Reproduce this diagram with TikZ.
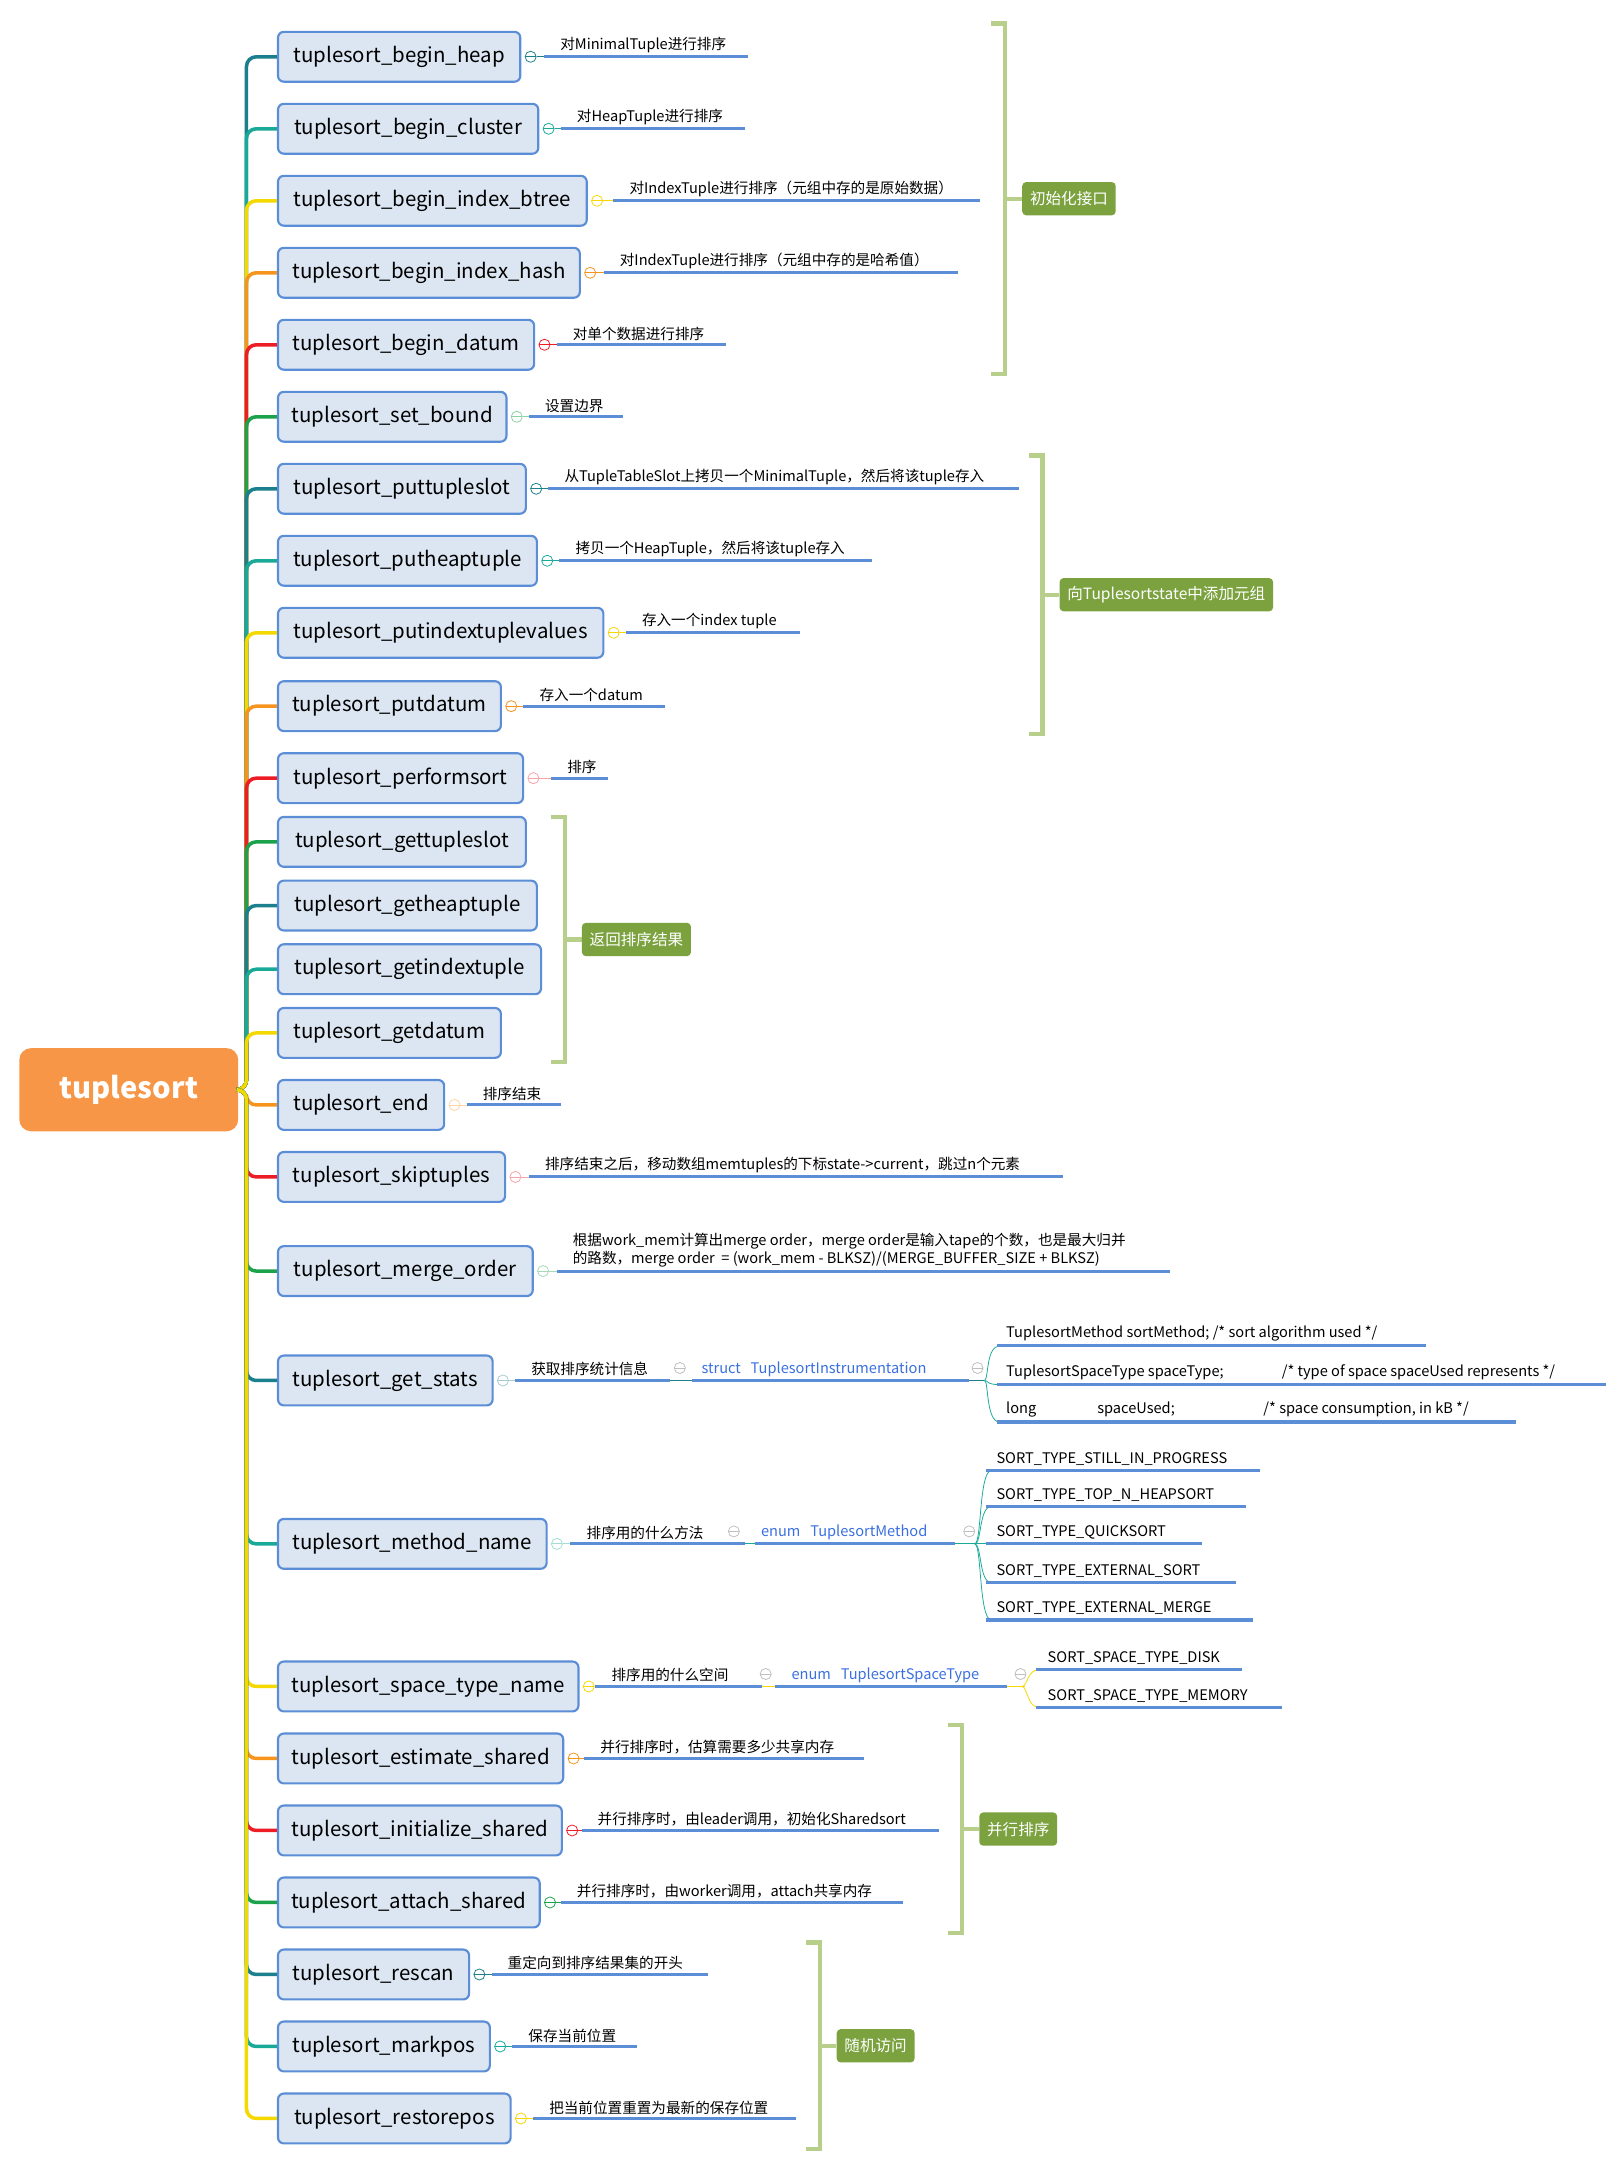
\documentclass[tikz,border=0pt]{standalone}
\usepackage{fontspec}
\setmainfont{Noto Sans CJK SC}
\usetikzlibrary{positioning}
\definecolor{dteal}{HTML}{1B7F8E}
\definecolor{teal2}{HTML}{19A999}
\definecolor{yel}{HTML}{F5D800}
\definecolor{org}{HTML}{F7941D}
\definecolor{rd}{HTML}{EE1C25}
\definecolor{gn}{HTML}{1BA24B}
\definecolor{boxfill}{HTML}{DCE6F2}
\definecolor{boxline}{HTML}{5B8ED6}
\definecolor{sumline}{HTML}{B8CF8C}
\definecolor{sumfill}{HTML}{7BA23F}
\definecolor{rootfill}{HTML}{F79646}
\definecolor{kw}{HTML}{3A6FE0}
\tikzset{
  fnbox/.style={draw=boxline,fill=boxfill,line width=1.1pt,rounded corners=3pt,anchor=west,
    minimum height=0.9cm,inner xsep=0pt,font=\fontsize{10.5}{12}\selectfont},
  coll/.style={circle,draw=#1,inner sep=0pt,minimum size=0.2cm,fill=white,
    path picture={\draw[#1] (path picture bounding box.west) -- (path picture bounding box.east);}},
  uline/.style={boxline,line width=1.6pt},
  desctext/.style={font=\fontsize{7.5}{9}\selectfont,inner sep=1pt,anchor=south west},
  sumbr/.style={sumline,line width=2.2pt},
  sumlbl/.style={fill=sumfill,text=white,rounded corners=2pt,font=\fontsize{8}{9}\selectfont\itshape,
    anchor=west,minimum height=0.6cm,inner xsep=4pt},
  branch/.style={#1,line width=1.8pt,rounded corners=5pt}
}
% description on the right of box #1
\newcommand{\desc}[5]{%
  \node[coll=#2,right=0.06cm of b#1] (c#1) {};
  \draw[#2,thin] (c#1.east) -- (#3,0|-b#1.east) coordinate (us#1);
  \draw[uline] (us#1) -- (#4,0|-b#1.east) coordinate (ue#1);
  \node[desctext] at ([xshift=0.25cm,yshift=1pt]us#1) {#5};}
% bracket for a summary
\newcommand{\summ}[6]{%
  \draw[sumbr] (#1,#3) -- (#2,#3) -- (#2,#4) -- (#1,#4);
  \draw[sumbr] (#2,{(#3+#4)/2}) -- ++(12,0) coordinate (s#5);
  \node[sumlbl] at (s#5) {#6};}
\begin{document}
\begin{tikzpicture}[x=0.025cm,y=-0.025cm]
\useasboundingbox (0,0) rectangle (1170,1560);

\node[fill=rootfill,text=white,rounded corners=6pt,minimum width=3.95cm,minimum height=1.5cm,
  font=\fontsize{15}{18}\selectfont\bfseries] (root) at (93,787) {tuplesort};

% function boxes and branches
\foreach \i/\name/\w/\y/\col in {
  1/tuplesort\_begin\_heap/175/41/dteal,
  2/tuplesort\_begin\_cluster/188/93/teal2,
  3/tuplesort\_begin\_index\_btree/223/145/yel,
  4/tuplesort\_begin\_index\_hash/218/197/org,
  5/tuplesort\_begin\_datum/185/249/rd,
  6/tuplesort\_set\_bound/165/301/gn,
  7/tuplesort\_puttupleslot/179/353/dteal,
  8/tuplesort\_putheaptuple/187/405/teal2,
  9/tuplesort\_putindextuplevalues/235/457/yel,
  10/tuplesort\_putdatum/161/510/org,
  11/tuplesort\_performsort/177/562/rd,
  12/tuplesort\_gettupleslot/179/608/gn,
  13/tuplesort\_getheaptuple/187/654/dteal,
  14/tuplesort\_getindextuple/190/700/teal2,
  15/tuplesort\_getdatum/161/746/yel,
  16/tuplesort\_end/120/798/org,
  17/tuplesort\_skiptuples/164/850/rd,
  18/tuplesort\_merge\_order/184/918/gn,
  19/tuplesort\_get\_stats/155/997/dteal,
  20/tuplesort\_method\_name/194/1115/teal2,
  21/tuplesort\_space\_type\_name/217/1218/yel,
  22/tuplesort\_estimate\_shared/206/1270/org,
  23/tuplesort\_initialize\_shared/205/1322/rd,
  24/tuplesort\_attach\_shared/189/1374/gn,
  25/tuplesort\_rescan/138/1426/dteal,
  26/tuplesort\_markpos/153/1478/teal2,
  27/tuplesort\_restorepos/168/1530/yel}{
  \node[fnbox,minimum width=\w*0.025cm] (b\i) at (200,\y) {\name};
  \draw[branch=\col] (root.east) -- (178,787) -- (178,\y) -- (b\i.west);
}

% descriptions
\desc{1}{dteal}{393}{540}{对MinimalTuple进行排序}
\desc{2}{teal2}{405}{538}{对HeapTuple进行排序}
\desc{3}{yel}{443}{708}{对IndexTuple进行排序（元组中存的是原始数据）}
\desc{4}{org}{436}{692}{对IndexTuple进行排序（元组中存的是哈希值）}
\desc{5}{rd}{402}{524}{对单个数据进行排序}
\desc{6}{gn!50}{382}{450}{设置边界}
\desc{7}{dteal}{396}{736}{从TupleTableSlot上拷贝一个MinimalTuple，然后将该tuple存入}
\desc{8}{teal2}{404}{630}{拷贝一个HeapTuple，然后将该tuple存入}
\desc{9}{yel}{452}{578}{存入一个index tuple}
\desc{10}{org}{378}{480}{存入一个datum}
\desc{11}{rd!40}{398}{439}{排序}
\desc{16}{org!40}{337}{405}{排序结束}
\desc{17}{rd!40}{382}{768}{排序结束之后，移动数组memtuples的下标state->current，跳过n个元素}
\desc{18}{gn!40}{402}{845}{}
\node[desctext,align=left] at ([xshift=0.25cm,yshift=1pt]us18) {根据work\_mem计算出merge order，merge order是输入tape的个数，也是最大归并\\的路数，merge order \ = (work\_mem - BLKSZ)/(MERGE\_BUFFER\_SIZE + BLKSZ)};
\desc{22}{org}{422}{624}{并行排序时，估算需要多少共享内存}
\desc{23}{rd}{420}{678}{并行排序时，由leader调用，初始化Sharedsort}
\desc{24}{gn}{405}{652}{并行排序时，由worker调用，attach共享内存}
\desc{25}{dteal}{355}{511}{重定向到排序结果集的开头}
\desc{26}{teal2}{370}{460}{保存当前位置}
\desc{27}{yel}{385}{575}{把当前位置重置为最新的保存位置}

% get_stats chain
\desc{19}{dteal!40}{372}{484}{获取排序统计信息}
\node[coll=gray!50] (k19) at (491,988) {};
\draw[dteal,thin] (ue19) -- (500,997) coordinate (vs19);
\draw[uline] (vs19) -- (700,997) coordinate (ve19);
\node[desctext,text=kw] at (505,996) {struct \ \ TuplesortInstrumentation};
\node[coll=gray!50] (m19) at (706,988) {};
\draw[dteal,thin] (ve19) -- (711,997);
\foreach \y/\x/\t in {972/1030/{TuplesortMethod sortMethod; /* sort algorithm used */},
  1000/1160/{TuplesortSpaceType spaceType;\hspace{1.05cm}/* type of space spaceUsed represents */},
  1027/1095/{long\hspace{1.1cm}spaceUsed;\hspace{1.6cm}/* space consumption, in kB */}}{
  \draw[teal2,thin] (711,997) .. controls (714,997) and (712,\y) .. (722,\y);
  \draw[uline] (720,\y) -- (\x,\y);
  \node[desctext] at (725,\y-2) {\t};
}

% method_name chain
\desc{20}{teal2!40}{412}{538}{排序用的什么方法}
\node[coll=gray!50] (k20) at (530,1106) {};
\draw[teal2,thin] (ue20) -- (545,1115) coordinate (vs20);
\draw[uline] (vs20) -- (690,1115) coordinate (ve20);
\node[desctext,text=kw] at (548,1114) {enum \ \ TuplesortMethod};
\node[coll=gray!50] (m20) at (700,1106) {};
\draw[teal2,thin] (ve20) -- (706,1115);
\foreach \y/\x/\t in {1062/910/SORT\_TYPE\_STILL\_IN\_PROGRESS,1088/900/SORT\_TYPE\_TOP\_N\_HEAPSORT,
  1115/868/SORT\_TYPE\_QUICKSORT,1143/893/SORT\_TYPE\_EXTERNAL\_SORT,1170/905/SORT\_TYPE\_EXTERNAL\_MERGE}{
  \draw[teal2,thin] (704,1115) .. controls (709,1115) and (707,\y) .. (716,\y);
  \draw[uline] (712,\y) -- (\x,\y);
  \node[desctext] at (718,\y-2) {\t};
}

% space_type_name chain
\desc{21}{yel}{430}{550}{排序用的什么空间}
\node[coll=gray!50] (k21) at (553,1209) {};
\draw[yel,thin] (ue21) -- (560,1218) coordinate (vs21);
\draw[uline] (vs21) -- (727,1218) coordinate (ve21);
\node[desctext,text=kw] at (570,1217) {enum \ \ TuplesortSpaceType};
\node[coll=gray!50] (m21) at (737,1209) {};
\draw[yel,thin] (ve21) -- (740,1218);
\foreach \y/\x/\t in {1206/897/SORT\_SPACE\_TYPE\_DISK,1233/926/SORT\_SPACE\_TYPE\_MEMORY}{
  \draw[yel,thin] (738,1218) .. controls (742,1218) and (742,\y) .. (750,\y);
  \draw[uline] (748,\y) -- (\x,\y);
  \node[desctext] at (755,\y-2) {\t};
}

% summaries
\summ{716}{726}{17}{270}{A}{初始化接口}
\summ{743}{753}{329}{530}{B}{向Tuplesortstate中添加元组}
\summ{398}{408}{590}{767}{C}{返回排序结果}
\summ{685}{695}{1246}{1396}{D}{并行排序}
\summ{582}{592}{1403}{1552}{E}{随机访问}
\end{tikzpicture}
\end{document}
